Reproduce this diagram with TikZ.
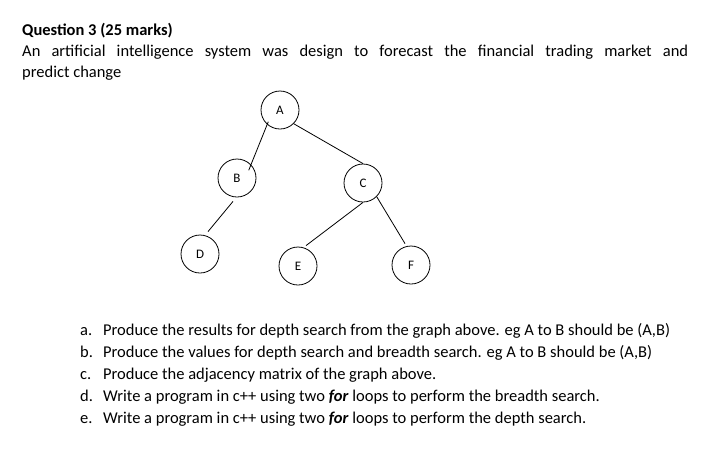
\documentclass[tikz,border=0pt]{standalone}
\usepackage{fontspec}
\setmainfont{Carlito}
\begin{document}
\begin{tikzpicture}[x=1pt,y=-1pt,
  vtx/.style={circle,draw,thick,minimum size=38pt,inner sep=0pt,font=\fontsize{13}{15}\selectfont},
  txt/.style={anchor=base west,inner sep=0pt,font=\fontsize{16.5}{19}\selectfont},
  edge/.style={thick}]
\fill[white] (0,0) rectangle (720,459);
\useasboundingbox (0,0) rectangle (720,459);
\node[txt,font=\fontsize{16.5}{19}\selectfont\bfseries] (q) at (22,35) {Question 3 (25 marks)};
\node[txt] (p1) at (22,56) {\makebox[666pt][s]{An artificial intelligence system was design to forecast the financial trading market and}};
\node[txt] (p2) at (22,77) {predict change};
\node[vtx] (A) at (280,110) {A};
\node[vtx] (B) at (237,178) {B};
\node[vtx] (C) at (363,183) {C};
\node[vtx] (D) at (200,254) {D};
\node[vtx] (E) at (298,266) {E};
\node[vtx] (F) at (411,265) {F};
\draw[edge] (B.north east) ++(-2,6) -- ([shift={(2,-2)}]A.south west);
\draw[edge] (A.south east) -- (C.north);
\draw[edge] (B.south) ++(-4,4) -- ([shift={(8,-3)}]D.north);
\draw[edge] (C.south) -- ([shift={(8,-1)}]E.north);
\draw[edge] (C.south east) -- ([shift={(-6,-2)}]F.north);
\foreach \l/\t [count=\i from 0] in {a./Produce the results for depth search from the graph above. eg A to B should be (A\rlap{,}\phantom{,}B),
  b./Produce the values for depth search and breadth search. eg A to B should be (A\rlap{,}\phantom{,}B),
  c./Produce the adjacency matrix of the graph above.,
  d./Write a program in c++ using two \textbf{\textit{for}} loops to perform the breadth search.,
  e./Write a program in c++ using two \textbf{\textit{for}} loops to perform the depth search.}{
  \node[txt] (l\i) at (80,{335+22*\i}) {\l};
  \node[txt] (t\i) at (103,{335+22*\i}) {\t};
}
\end{tikzpicture}
\end{document}
